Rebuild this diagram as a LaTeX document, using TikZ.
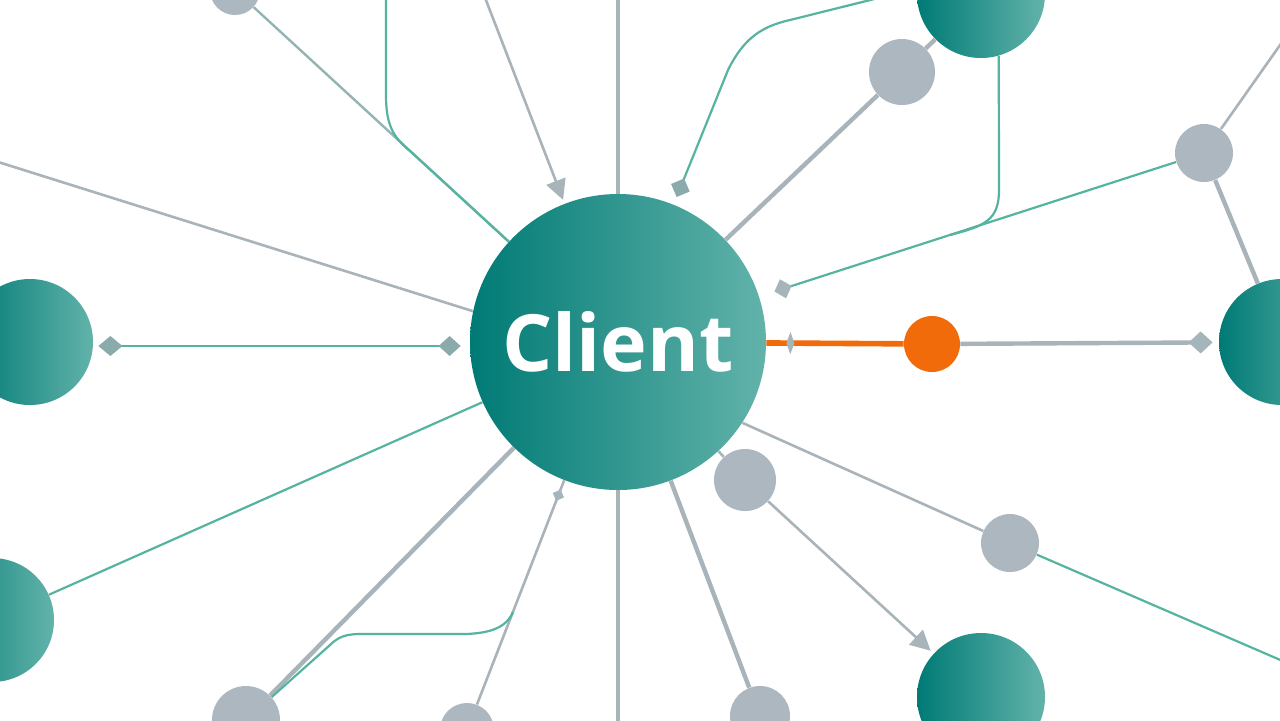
\documentclass[tikz,border=0pt]{standalone}
\usepackage{fontspec}
\newfontfamily\clientfont{Open Sans}
\usetikzlibrary{arrows.meta,decorations.markings}
\pgfdeclarelayer{bg}
\pgfsetlayers{bg,main}
\definecolor{tealA}{HTML}{007A75}
\definecolor{tealB}{HTML}{1B8C86}
\definecolor{tealC}{HTML}{62B3AA}
\definecolor{gnodec}{HTML}{ADB7C0}
\definecolor{glinec}{HTML}{A9B3BA}
\definecolor{tlinec}{HTML}{55B49F}
\definecolor{diamc}{HTML}{8AAAAC}
\definecolor{diamg}{HTML}{A5B5BC}
\definecolor{orangec}{HTML}{F26B0A}
\tikzset{
  hubbox/.style={circle, inner sep=0pt, minimum size=#1, left color=tealA, middle color=tealB, right color=tealC, draw=none},
  graybox/.style={circle, inner sep=0pt, minimum size=#1, fill=gnodec, draw=none},
  orangebox/.style={circle, inner sep=0pt, minimum size=#1, fill=orangec, draw=none},
  gline/.style={draw=glinec, line width=1.3pt},
  mixline/.style={draw=glinec!75!tlinec, line width=1.2pt},
  gthick/.style={draw=glinec, line width=2.2pt},
  tline/.style={draw=tlinec, line width=1.1pt},
  oline/.style={draw=orangec, line width=2.8pt},
}
\begin{document}
\begin{tikzpicture}[x=0.5pt,y=-0.5pt]
\useasboundingbox (0,0) rectangle (1280,720);
\clip (0,0) rectangle (1280,720);

% nodes
\node[hubbox=148pt, text=white, font={\clientfont\bfseries\fontsize{39.5}{46}\selectfont}] (client) at (618,342) {Client};
\node[hubbox=63pt] (tL) at (30,342) {};
\node[hubbox=62pt] (tBL) at (-8,620) {};
\node[hubbox=64pt] (tTR) at (981,-6) {};
\node[hubbox=63pt] (tR) at (1282,342) {};
\node[hubbox=64pt] (tBR) at (981,697) {};
\node[graybox=25pt] (gTL) at (235,-10) {};
\node[graybox=33pt] (gTR) at (902,72) {};
\node[graybox=29pt] (gR) at (1204,153) {};
\node[graybox=31pt] (gC) at (745,480) {};
\node[graybox=29pt] (gBR) at (1010,543) {};
\node[graybox=30pt] (gB1) at (760,716) {};
\node[graybox=34pt] (gB2) at (246,720) {};
\node[graybox=27pt] (gB3) at (467,730) {};
\node[orangebox=28pt] (org) at (932,344) {};

% free ends
\coordinate (cA) at (484,-5);
\coordinate (cTop) at (618,-5);
\coordinate (cBot) at (618,725);
\coordinate (cL) at (-5,161);
\coordinate (cTop2) at (386,-5);
\coordinate (cRT) at (1285,38);
\coordinate (cRB) at (1285,662);

\begin{pgfonlayer}{bg}
\fill[white] (0,0) rectangle (1280,720);
% upper left
\draw[mixline] (gTL) -- (client);
\draw[tline] (cTop2) -- (386,95) .. controls (386,125) and (393,137) .. (410,151) -- (client);
\draw[gline, -{Triangle[length=10pt,width=10pt]}, shorten >=2pt] (cA) -- (client);
\draw[gthick] (cTop) -- (client);
\draw[gline] (cL) -- (client.168);
\draw[tline, {Diamond[length=12pt,width=10pt,color=diamc]}-{Diamond[length=11pt,width=10pt,color=diamc]}, shorten <=2.5pt, shorten >=4.5pt]
  ([yshift=-2pt]tL.east) -- ([yshift=-2pt]client.west);
% lower left
\draw[tline] (client) -- (tBL);
\draw[gthick] (client) -- (gB2);
\draw[gline, postaction={decorate, decoration={markings, mark=at position -5pt with {\arrow{Diamond[length=6pt,width=6pt,color=diamg]}}}}] (gB3) -- (client);
\draw[tline] (gB2) -- (330,645) .. controls (342,633) and (352,634) .. (372,634) -- (466,634) .. controls (490,633) and (506,628) .. (513,612);
\draw[gthick] (cBot) -- (client);
% lower right
\draw[gthick] (client) -- (gB1);
\draw[gline] (client) -- (gC);
\draw[gline, -{Triangle[length=10pt,width=10pt]}, shorten >=2pt] (gC) -- (tBR);
\draw[gline] (client.-33) -- (gBR);
\draw[tline] (gBR) -- (cRB);
% right
\draw[oline, postaction={decorate, decoration={markings, mark=at position 14pt with {\arrow{Diamond[length=4pt,width=11pt,color=diamg]}}}}] (client) -- (org);
\draw[glinec, line width=2.2pt, -{Diamond[length=12pt,width=11pt,color=diamg]}, shorten >=3pt] (org) -- (tR);
\draw[tline, -{Diamond[length=9pt,width=10pt,color=diamg]}, shorten >=8pt] (gR) -- (client);
\draw[tline] (tTR.-74) -- (999,190) .. controls (999,220) and (985,226) .. (950,235);
\draw[gthick] (client) -- (gTR);
\draw[gthick] (gTR) -- (tTR);
\draw[tline, -{Diamond[length=10pt,width=10pt,color=diamc]}, shorten >=4pt] (tTR.175) -- (790,20) .. controls (758,27) and (742,42) .. (728,70) -- (client);
\draw[gline] (gR) -- (cRT);
\draw[gthick] (gR) -- (tR);
\end{pgfonlayer}
\end{tikzpicture}
\end{document}
